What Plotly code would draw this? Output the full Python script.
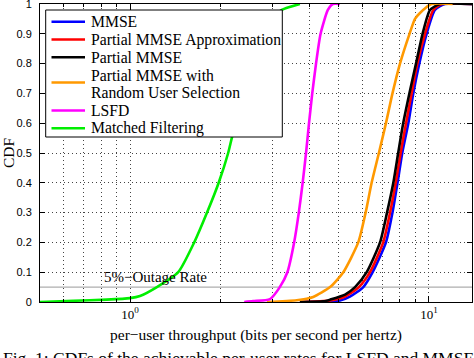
import math
import plotly.graph_objects as go

# ---------------- data ----------------
series_names = ["MMSE", "Partial MMSE Approximation", "Partial MMSE",
                "Partial MMSE with\nRandom User Selection", "LSFD", "Matched Filtering"]
series_colors = ["#0000ff", "#ff0000", "#000000", "#ff9900", "#ff00ff", "#00ee00"]

mmse_x = [4.00, 5.04, 5.44, 6.03, 6.48, 7.18, 7.55, 7.85, 8.14, 8.53, 8.86, 9.28, 9.82, 10.47, 11.31, 14.0]
mmse_y = [0, 0.005, 0.018, 0.05, 0.1, 0.2, 0.3, 0.4, 0.5, 0.6, 0.7, 0.8, 0.9, 0.98, 1.0, 1.0]

approx_x = [3.70, 4.67, 5.24, 5.83, 6.35, 7.03, 7.41, 7.74, 8.04, 8.38, 8.75, 9.14, 9.70, 10.34, 11.05, 14.0]
approx_y = [0, 0.005, 0.018, 0.05, 0.1, 0.2, 0.3, 0.4, 0.5, 0.6, 0.7, 0.8, 0.9, 0.98, 1.0, 1.0]

partial_x = [3.70, 4.43, 4.67, 5.24, 5.66, 6.19, 6.86, 7.24, 7.60, 7.89, 8.20, 8.60, 9.05, 9.52, 10.08, 10.89, 14.0]
partial_y = [0, 0.002, 0.008, 0.025, 0.05, 0.1, 0.2, 0.3, 0.4, 0.5, 0.6, 0.7, 0.8, 0.9, 0.98, 1.0, 1.0]

random_x = [2.87, 3.61, 4.10, 4.67, 5.17, 5.80, 6.14, 6.43, 6.80, 7.18, 7.55, 8.00, 8.61, 8.98, 9.33, 10.2, 12.0]
random_y = [0, 0.006, 0.017, 0.05, 0.1, 0.2, 0.3, 0.4, 0.5, 0.6, 0.7, 0.8, 0.9, 0.95, 0.97, 1.0, 1.0]

lsfd_x = [2.41, 2.58, 2.94, 3.17, 3.36, 3.54, 3.67, 3.78, 3.88, 3.97, 4.07, 4.19, 4.34, 4.59, 4.77, 5.04]
lsfd_y = [0, 0.003, 0.01, 0.05, 0.1, 0.2, 0.3, 0.4, 0.5, 0.6, 0.7, 0.8, 0.9, 0.98, 1.0, 1.0]

mf_x = [0.5, 0.646, 0.836, 1.0, 1.08, 1.23, 1.45, 1.64, 1.81, 1.98, 2.13, 2.19, 2.26, 2.43, 2.60, 2.83, 3.01, 3.22, 3.70]
mf_y = [0, 0.004, 0.008, 0.013, 0.02, 0.05, 0.1, 0.2, 0.3, 0.4, 0.5, 0.55, 0.6, 0.7, 0.8, 0.9, 0.95, 0.98, 1.0]

series_x = [mmse_x, approx_x, partial_x, random_x, lsfd_x, mf_x]
series_y = [mmse_y, approx_y, partial_y, random_y, lsfd_y, mf_y]

outage_level = 0.05
outage_label = "5%\u2212Outage Rate"

x_range = [0.5, 13.93]
x_major_ticks = [1, 10]
x_major_labels = ["10<sup>0</sup>", "10<sup>1</sup>"]
x_minor_ticks = [0.6, 0.7, 0.8, 0.9, 2, 3, 4, 5, 6, 7, 8, 9]
y_ticks = [0, 0.1, 0.2, 0.3, 0.4, 0.5, 0.6, 0.7, 0.8, 0.9, 1.0]
y_labels = ["0", "0.1", "0.2", "0.3", "0.4", "0.5", "0.6", "0.7", "0.8", "0.9", "1"]

x_title = "per\u2212user throughput (bits per second per hertz)"
y_title = "CDF"
caption = "Fig. 1: CDFs of the achievable per-user rates for LSFD and MMSE"

# ---------------- figure ----------------
W, H = 474, 358
PL, PR, PT, PB = 40, 472, 4, 302
SERIF = "Liberation Serif, Times New Roman, serif"
SANS = "Liberation Sans, Arial, sans-serif"


def fx(px):
    return (px - PL) / (PR - PL)


def fy(py):
    return (PB - py) / (PB - PT)


fig = go.Figure()
for name, color, xs, ys in zip(series_names, series_colors, series_x, series_y):
    fig.add_trace(go.Scatter(x=xs, y=ys, mode="lines", name=name.replace("\n", "<br>"),
                             line=dict(color=color, width=2.6, shape="spline", smoothing=0.6)))

grid_dash = "1px,3px"
grid_color = "#444444"

fig.update_layout(
    width=W, height=H,
    margin=dict(l=PL, r=W - PR, t=PT, b=H - PB, autoexpand=False),
    paper_bgcolor="white", plot_bgcolor="white",
    showlegend=False,
    xaxis=dict(
        type="log", automargin=False,
        range=[math.log10(x_range[0]), math.log10(x_range[1])],
        tickmode="array", tickvals=x_major_ticks, ticktext=x_major_labels,
        ticks="inside", ticklen=6, tickcolor="black", mirror="allticks",
        showline=True, linecolor="black", linewidth=1,
        showgrid=True, gridcolor=grid_color, griddash=grid_dash, gridwidth=1,
        minor=dict(tickmode="array", tickvals=x_minor_ticks, ticks="inside", ticklen=3,
                   tickcolor="black", showgrid=True, gridcolor=grid_color,
                   griddash=grid_dash, gridwidth=1),
        zeroline=False,
        tickfont=dict(family=SERIF, size=13, color="black"),
        title=dict(text=x_title, font=dict(family=SERIF, size=15.5, color="black"), standoff=8),
    ),
    yaxis=dict(
        range=[0, 1], automargin=False,
        tickmode="array", tickvals=y_ticks, ticktext=y_labels,
        ticks="inside", ticklen=5, tickcolor="black", mirror="allticks",
        showline=True, linecolor="black", linewidth=1,
        showgrid=True, gridcolor=grid_color, griddash=grid_dash, gridwidth=1,
        zeroline=False,
        ticklabeloverflow="allow",
        tickfont=dict(family=SANS, size=11, color="black"),
        ticklabelstandoff=5,
        title=dict(text=y_title, font=dict(family=SERIF, size=15.5, color="black"), standoff=6),
    ),
)

# 5% outage reference line and label
fig.add_shape(type="line", xref="paper", x0=0, x1=1, yref="y", y0=outage_level, y1=outage_level,
              line=dict(color="#999999", width=1), layer="between")
fig.add_annotation(x=math.log10(0.805), y=outage_level, xref="x", yref="y",
                   text=outage_label, showarrow=False, xanchor="left", yanchor="bottom", yshift=0,
                   font=dict(family=SERIF, size=15, color="black"))

# legend (box, samples, labels built from the series lists)
fig.add_shape(type="rect", xref="paper", yref="paper", x0=fx(45.7), x1=fx(282.3), y0=fy(137), y1=fy(10),
              line=dict(color="black", width=1), fillcolor="white", layer="above")
line_idx = 0
row0, row_step = 21.8, 17.75
for name, color in zip(series_names, series_colors):
    parts = name.split("\n")
    ys = [row0 + row_step * (line_idx + k) for k in range(len(parts))]
    line_idx += len(parts)
    yc = sum(ys) / len(ys) - (1.5 if len(parts) > 1 else 0)
    fig.add_shape(type="line", xref="paper", yref="paper", x0=fx(51.5), x1=fx(85), y0=fy(yc), y1=fy(yc),
                  line=dict(color=color, width=2.6), layer="above")
    for part, yy in zip(parts, ys):
        fig.add_annotation(xref="paper", yref="paper", x=fx(88.5), y=fy(yy), text=part, showarrow=False,
                           xanchor="left", yanchor="middle",
                           font=dict(family=SERIF, size=15.7, color="black"))

# caption (cut off at the bottom in the reference)
fig.add_annotation(xref="paper", yref="paper", x=fx(1), y=fy(346), text=caption, showarrow=False,
                   xanchor="left", yanchor="top", font=dict(family=SERIF, size=17.5, color="black"))

fig.write_html("out.html", config={"displayModeBar": False},
               post_script="document.body.style.margin='0';document.body.style.padding='0';")
